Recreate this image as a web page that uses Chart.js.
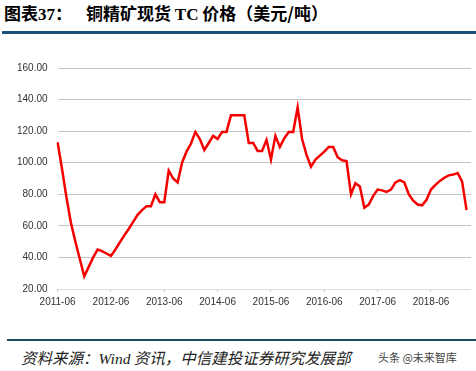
<!DOCTYPE html>
<html>
<head>
<meta charset="utf-8">
<script src="https://cdn.jsdelivr.net/npm/chart.js@4"></script>
<style>
  body { margin: 0; width: 476px; height: 371px; background: #fff; position: relative; overflow: hidden; }
  #title { position: absolute; left: 4px; top: 3px; font: bold 17px "Noto Sans CJK SC"; color: #000; white-space: nowrap; line-height: 20px; }
  .serif { font-family: "Liberation Serif"; font-weight: bold; }
  #rule1 { position: absolute; left: 2px; top: 31px; width: 474px; height: 3px; background: #1b4f7c; }
  #wrap { position: absolute; left: 0; top: 52px; width: 476px; height: 260px; }
  #rule2 { position: absolute; left: 7px; top: 339px; width: 469px; height: 2px; background: #1f4a68; }
  #source { position: absolute; left: 21px; top: 347px; font: italic 15.5px "Noto Sans CJK SC"; color: #222; white-space: nowrap; line-height: 20px; }
  #source .w { font-family: "Liberation Serif"; }
  #mark { position: absolute; left: 378px; top: 350px; font: 11px "Noto Sans CJK SC"; color: #444; white-space: nowrap; line-height: 14px; }
</style>
</head>
<body>
<div id="title">图表<span class="serif">37</span>：<span style="margin-left:14px">铜精矿现货 </span><span class="serif">TC</span> 价格（美元/吨）</div>
<div id="rule1"></div>
<div id="wrap"><canvas id="tc"></canvas></div>
<div id="rule2"></div>
<div id="source">资料来源：<span class="w">Wind</span> 资讯，中信建投证券研究发展部</div>
<div id="mark">头条 @未来智库</div>
<script>
    // monthly TC spot price, USD/t (2011-06 .. 2019-02)
    const tcValues = [
        113, 96, 78, 62, 50, 39, 28, 34, 40, 45, 44, 42.5,          // 2011-06 .. 2012-05
        41, 45, 49.5, 54, 58, 62.5, 67, 70, 72.5, 72.5, 80, 75,     // 2012-06 .. 2013-05
        75, 95, 90, 87.5, 100, 107, 112, 119.5, 115, 108, 112.5, 117, // 2013-06 .. 2014-05
        115, 119.5, 119.5, 130, 130, 130, 130, 112.5, 112.5, 107.5, 107.5, 114.5, // 2014-06 .. 2015-05
        102, 117, 110, 115.5, 119.5, 119.5, 135, 115, 105, 97.5, 102, 104.5,      // 2015-06 .. 2016-05
        107, 110, 110, 103.5, 101.5, 101, 80, 87, 85, 71.5, 73.5, 79,   // 2016-06 .. 2017-05
        83, 82.5, 81.5, 83, 87.5, 89, 87.5, 80, 76, 73.5, 73, 76.5,     // 2017-06 .. 2018-05
        83, 86, 88.5, 90.5, 92, 92.5, 93.5, 88, 70                      // 2018-06 .. 2019-02
    ];
    const yTicks = [20, 40, 60, 80, 100, 120, 140, 160];

    // month labels, one extra month at the end so the axis runs a little past the last point
    const months = [];
    for (let i = 0; i <= tcValues.length; i++) {
        const y = 2011 + Math.floor((5 + i) / 12);
        const m = (5 + i) % 12 + 1;
        months.push(`${y}-${m < 10 ? '0' + m : m}`);
    }

    const isJune = label => label.endsWith('-06');

    const chart = new Chart(document.getElementById('tc'), {
        type: 'line',
        data: {
            labels: months,
            datasets: [{
                data: tcValues,
                borderColor: '#f50000',
                borderWidth: 2.5,
                pointRadius: 0,
                tension: 0,
                fill: false
            }]
        },
        options: {
            responsive: true,
            maintainAspectRatio: false,
            animation: false,
            layout: { padding: { left: 7, right: 5, top: 12, bottom: 0 } },
            plugins: { legend: { display: false }, tooltip: { enabled: false } },
            scales: {
                x: {
                    offset: false,
                    border: { display: false },
                    grid: {
                        drawOnChartArea: false,
                        drawTicks: true,
                        tickLength: 3,
                        color: ctx => (ctx.tick && isJune(months[ctx.index]) ? '#c8c8c8' : 'rgba(0,0,0,0)')
                    },
                    ticks: {
                        autoSkip: false,
                        maxRotation: 0,
                        padding: 4,
                        color: '#333',
                        font: { family: 'Liberation Sans', size: 10 },
                        callback: function(val, index) {
                            return isJune(months[index]) ? months[index] : '';
                        }
                    }
                },
                y: {
                    min: 20,
                    max: 160,
                    afterBuildTicks: axis => { axis.ticks = yTicks.map(v => ({ value: v })); },
                    border: { display: false },
                    grid: {
                        drawTicks: false,
                        color: ctx => (ctx.tick && ctx.tick.value === 20 ? '#dedede' : '#c4c4c4')
                    },
                    ticks: {
                        padding: 10,
                        color: '#333',
                        font: { family: 'Liberation Sans', size: 10 },
                        callback: v => v.toFixed(2)
                    }
                }
            }
        }
    });
</script>
</body>
</html>
